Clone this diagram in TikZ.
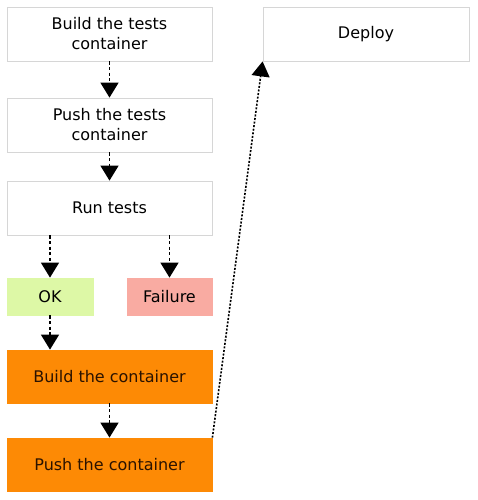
\documentclass[tikz,border=0pt]{standalone}
\usepackage{fontspec}
\setmainfont{DejaVu Sans}
\usetikzlibrary{arrows.meta}
\definecolor{boxline}{HTML}{D6D6D6}
\definecolor{okfill}{HTML}{DDF8A6}
\definecolor{failfill}{HTML}{F9ABA2}
\definecolor{orangefill}{HTML}{FD8A05}
\definecolor{darktext}{HTML}{2A1200}
\begin{document}
\begin{tikzpicture}[x=1pt,y=-1pt,
  box/.style={draw=boxline, line width=0.8pt, fill=white, minimum width=205pt, minimum height=54pt, align=center, inner sep=0pt, font=\fontsize{16}{20}\selectfont},
  smallbox/.style={box, minimum width=86pt, minimum height=37pt},
  okbox/.style={smallbox, fill=okfill, draw=okfill},
  failbox/.style={smallbox, fill=failfill, draw=failfill},
  orangebox/.style={box, minimum height=53pt, fill=orangefill, draw=orangefill, text=darktext},
  flow/.style={line width=1.6pt, dash pattern=on 3.2pt off 2.4pt, -{Triangle[width=18pt,length=15pt]}},
  longflow/.style={line width=1.6pt, dash pattern=on 2pt off 1.6pt, -{Triangle[width=18pt,length=15pt]}}]
\useasboundingbox (0,0) rectangle (477,500);
\node[box] (bt) at (109.5,34) {Build the tests\\container};
\node[box] (pt) at (109.5,125) {Push the tests\\container};
\node[box] (rt) at (109.5,208) {Run tests};
\node[okbox] (ok) at (50,296.5) {OK};
\node[failbox, minimum width=85pt] (fail) at (169.5,296.5) {Failure};
\node[orangebox] (bc) at (109.5,376.5) {Build the container};
\node[orangebox] (pc) at (109.5,464.5) {Push the container};
\node[box, minimum width=206pt] (dep) at (366,34) {Deploy};
\draw[flow] (bt) -- (pt);
\draw[flow] (pt) -- (rt);
\draw[flow] (rt.south -| ok.north) -- (ok.north);
\draw[flow] (rt.south -| fail.north) -- (fail.north);
\draw[flow] (ok.south) -- (ok.south |- bc.north);
\draw[flow] (bc) -- (pc);
\draw[longflow] (pc.north east) -- (dep.south west);
\end{tikzpicture}
\end{document}
